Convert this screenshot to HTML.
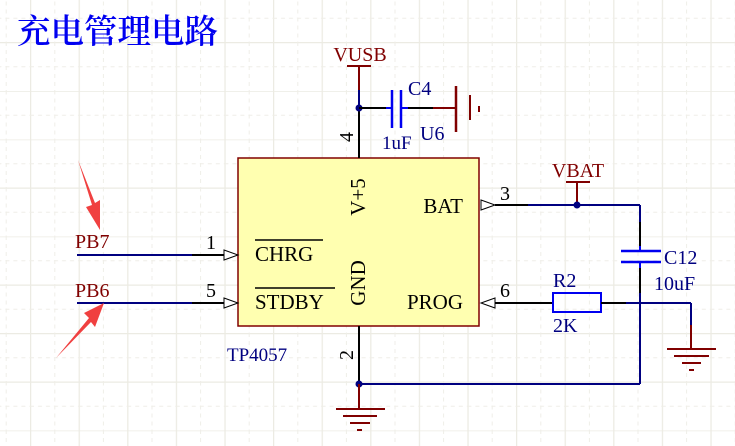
<!DOCTYPE html>
<html><head><meta charset="utf-8"><style>
html,body{margin:0;padding:0;background:#fff;}
svg{display:block;}
text{font-family:"Liberation Serif","Noto Serif CJK SC",serif;}
</style></head><body>
<svg width="735" height="446" viewBox="0 0 735 446" xmlns="http://www.w3.org/2000/svg">
<defs>
<pattern id="g" x="30" y="42" width="48.6" height="48.5" patternUnits="userSpaceOnUse">
<line x1="0.5" y1="0" x2="0.5" y2="48.5" stroke="#ecebe3" stroke-width="1.5"/>
<line x1="0" y1="0.5" x2="48.6" y2="0.5" stroke="#ecebe3" stroke-width="1.5"/>
<line x1="24.8" y1="0" x2="24.8" y2="48.5" stroke="#efeee8" stroke-width="1" stroke-dasharray="4,4"/>
<line x1="0" y1="24.7" x2="48.6" y2="24.7" stroke="#efeee8" stroke-width="1" stroke-dasharray="4,4"/>
</pattern>
</defs>
<rect width="735" height="446" fill="url(#g)"/>

<text x="17" y="43" font-size="33.5" fill="#0000f0" font-family="Noto Serif CJK SC, serif" font-weight="600">充电管理电路</text>

<!-- IC box -->
<rect x="238" y="158" width="241" height="168" fill="#ffffb0" stroke="#800000" stroke-width="1.5"/>
<text x="255" y="261" font-size="21" fill="#000">CHRG</text>
<line x1="255" y1="240" x2="323" y2="240" stroke="#000" stroke-width="1.5"/>
<text x="255" y="309" font-size="21" fill="#000">STDBY</text>
<line x1="255" y1="288" x2="335" y2="288" stroke="#000" stroke-width="1.5"/>
<text x="463" y="213" font-size="21" fill="#000" text-anchor="end">BAT</text>
<text x="463" y="309" font-size="21" fill="#000" text-anchor="end">PROG</text>
<text transform="translate(365,197) rotate(-90)" font-size="21" fill="#000" text-anchor="middle">V+5</text>
<text transform="translate(365,283) rotate(-90)" font-size="21" fill="#000" text-anchor="middle">GND</text>
<text x="227" y="361" font-size="19" fill="#000080">TP4057</text>

<!-- left pins -->
<line x1="77" y1="255" x2="192" y2="255" stroke="#000080" stroke-width="2"/>
<line x1="192" y1="255" x2="224" y2="255" stroke="#000" stroke-width="2"/>
<polygon points="224,250 238,255 224,260" fill="#fff" stroke="#000" stroke-width="1"/>
<line x1="77" y1="303" x2="192" y2="303" stroke="#000080" stroke-width="2"/>
<line x1="192" y1="303" x2="224" y2="303" stroke="#000" stroke-width="2"/>
<polygon points="224,298 238,303 224,308" fill="#fff" stroke="#000" stroke-width="1"/>
<text x="75" y="248" font-size="20" fill="#800000">PB7</text>
<text x="75" y="297" font-size="20" fill="#800000">PB6</text>
<text x="206" y="249" font-size="20" fill="#000">1</text>
<text x="206" y="297" font-size="20" fill="#000">5</text>

<!-- red arrows -->
<polygon points="78,160 92,205 86,207 100,230 100,200 95,203" fill="#f04040"/>
<polygon points="56,358 89,318 84,313 104,303 95,327 91,322" fill="#f04040"/>

<!-- VUSB -->
<text x="360" y="61" font-size="20" fill="#800000" text-anchor="middle">VUSB</text>
<line x1="347" y1="66" x2="371" y2="66" stroke="#800000" stroke-width="2"/>
<line x1="359" y1="66" x2="359" y2="90" stroke="#800000" stroke-width="2"/>
<line x1="359" y1="90" x2="359" y2="108" stroke="#000080" stroke-width="2"/>
<line x1="359" y1="108" x2="359" y2="158" stroke="#000" stroke-width="2"/>
<circle cx="359" cy="108" r="3.5" fill="#000080"/>
<text transform="translate(353,137) rotate(-90)" font-size="20" fill="#000" text-anchor="middle">4</text>
<line x1="359" y1="108" x2="386" y2="108" stroke="#000" stroke-width="2"/>
<line x1="392" y1="90" x2="392" y2="128" stroke="#0000f0" stroke-width="2.5"/>
<line x1="401" y1="90" x2="401" y2="128" stroke="#0000f0" stroke-width="2.5"/>
<line x1="386" y1="108" x2="392" y2="108" stroke="#0000f0" stroke-width="2"/>
<line x1="401" y1="108" x2="408" y2="108" stroke="#0000f0" stroke-width="2"/>
<line x1="408" y1="108" x2="433" y2="108" stroke="#000" stroke-width="2"/>
<line x1="433" y1="108" x2="456" y2="108" stroke="#800000" stroke-width="2"/>
<line x1="456" y1="86" x2="456" y2="132" stroke="#800000" stroke-width="2.5"/>
<line x1="470" y1="95" x2="470" y2="120" stroke="#800000" stroke-width="2"/>
<line x1="479" y1="106" x2="479" y2="112" stroke="#800000" stroke-width="2"/>
<text x="408" y="95" font-size="20" fill="#000080">C4</text>
<text x="382" y="149" font-size="19" fill="#000080">1uF</text>
<text x="420" y="140" font-size="20" fill="#000080">U6</text>

<!-- BAT net -->
<polygon points="481,200 495,205 481,210" fill="#fff" stroke="#000" stroke-width="1"/>
<line x1="495" y1="205" x2="528" y2="205" stroke="#000" stroke-width="2"/>
<line x1="528" y1="205" x2="640" y2="205" stroke="#000080" stroke-width="2"/>
<text x="500" y="200" font-size="20" fill="#000">3</text>
<text x="578" y="177" font-size="20" fill="#800000" text-anchor="middle">VBAT</text>
<line x1="566" y1="182" x2="590" y2="182" stroke="#800000" stroke-width="2"/>
<line x1="577" y1="182" x2="577" y2="205" stroke="#800000" stroke-width="2"/>
<circle cx="577" cy="205" r="3.5" fill="#000080"/>
<line x1="640" y1="205" x2="640" y2="222" stroke="#000080" stroke-width="2"/>
<line x1="640" y1="222" x2="640" y2="246" stroke="#000" stroke-width="2"/>
<line x1="640" y1="246" x2="640" y2="251" stroke="#0000f0" stroke-width="2"/>
<line x1="621" y1="251" x2="661" y2="251" stroke="#0000f0" stroke-width="2.5"/>
<line x1="621" y1="262" x2="661" y2="262" stroke="#0000f0" stroke-width="2.5"/>
<line x1="640" y1="262" x2="640" y2="268" stroke="#0000f0" stroke-width="2"/>
<line x1="640" y1="268" x2="640" y2="293" stroke="#000" stroke-width="2"/>
<line x1="640" y1="293" x2="640" y2="384" stroke="#000080" stroke-width="2"/>
<text x="664" y="264" font-size="20" fill="#000080">C12</text>
<text x="654" y="290" font-size="20" fill="#000080">10uF</text>

<!-- PROG net -->
<polygon points="495,298 481,303 495,308" fill="#fff" stroke="#000" stroke-width="1"/>
<line x1="495" y1="303" x2="553" y2="303" stroke="#000" stroke-width="2"/>
<text x="500" y="297" font-size="20" fill="#000">6</text>
<rect x="553" y="293" width="48" height="19" fill="none" stroke="#0000f0" stroke-width="2"/>
<text x="553" y="287" font-size="20" fill="#000080">R2</text>
<text x="553" y="332" font-size="20" fill="#000080">2K</text>
<line x1="601" y1="303" x2="626" y2="303" stroke="#000" stroke-width="2"/>
<line x1="626" y1="303" x2="691" y2="303" stroke="#000080" stroke-width="2"/>
<line x1="691" y1="303" x2="691" y2="325" stroke="#000080" stroke-width="2"/>
<line x1="691" y1="325" x2="691" y2="349" stroke="#800000" stroke-width="2"/>
<line x1="667" y1="349" x2="716" y2="349" stroke="#800000" stroke-width="2"/>
<line x1="674" y1="356" x2="709" y2="356" stroke="#800000" stroke-width="2"/>
<line x1="682" y1="363" x2="701" y2="363" stroke="#800000" stroke-width="2"/>
<line x1="689" y1="370" x2="694" y2="370" stroke="#800000" stroke-width="2"/>

<!-- GND pin -->
<line x1="359" y1="326" x2="359" y2="384" stroke="#000" stroke-width="2"/>
<text transform="translate(353,355) rotate(-90)" font-size="20" fill="#000" text-anchor="middle">2</text>
<line x1="359" y1="384" x2="640" y2="384" stroke="#000080" stroke-width="2"/>
<circle cx="359" cy="384" r="3.5" fill="#000080"/>
<line x1="359" y1="384" x2="359" y2="409" stroke="#800000" stroke-width="2"/>
<line x1="336" y1="409" x2="385" y2="409" stroke="#800000" stroke-width="2"/>
<line x1="343" y1="416" x2="377" y2="416" stroke="#800000" stroke-width="2"/>
<line x1="350" y1="423" x2="370" y2="423" stroke="#800000" stroke-width="2"/>
<line x1="357" y1="430" x2="362" y2="430" stroke="#800000" stroke-width="2"/>
</svg>
</body></html>
